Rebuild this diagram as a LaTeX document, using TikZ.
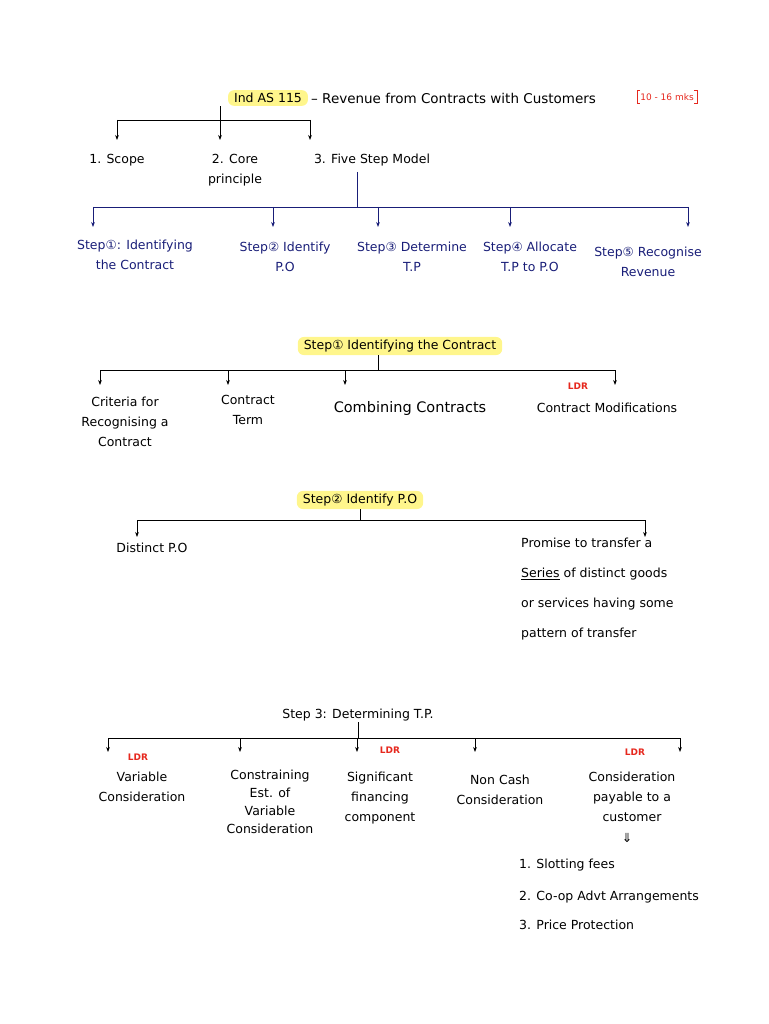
\documentclass[tikz,border=0pt]{standalone}
\usepackage{fontspec}
\setmainfont{DejaVu Sans}
\usetikzlibrary{arrows.meta}
\definecolor{navy}{RGB}{25,30,120}
\definecolor{hl}{RGB}{255,246,140}
\definecolor{ldr}{RGB}{230,40,30}
\begin{document}
\begin{tikzpicture}[x=1pt,y=-1pt,
  txt/.style={font=\fontsize{12.5}{20}\selectfont,align=center,inner sep=1pt},
  stepnode/.style={txt,text=navy},
  hlbox/.style={fill=hl,rounded corners=6pt,inner xsep=6pt,inner ysep=3pt,font=\fontsize{12.5}{15}\selectfont},
  ln/.style={line width=0.8pt},
  arr/.style={ln,-{Stealth[length=5pt]}},
  bl/.style={ln,navy},
  barr/.style={arr,navy},
  ldrtag/.style={font=\fontsize{9}{9}\selectfont\bfseries,text=ldr,inner sep=0pt}]
\useasboundingbox (0,0) rectangle (768,1024);
% title
\node[hlbox] (t1) at (268,98) {Ind AS 115};
\node[txt,anchor=west,font=\fontsize{13.5}{16}\selectfont] (t2) at (310,98) {– Revenue from Contracts with Customers};
\node[font=\fontsize{9}{10}\selectfont,text=ldr,inner sep=3pt] (t3) at (667,97) {10 - 16 mks};
\draw[ldr,line width=0.7pt] ([xshift=3pt]t3.north west) -| (t3.south west) -- ++(3pt,0);
\draw[ldr,line width=0.7pt] ([xshift=-3pt]t3.north east) -| (t3.south east) -- ++(-3pt,0);
\coordinate (c0) at (220,120);
\draw[ln] (t1.south -| c0) -- (c0);
\draw[ln] (117,120) -- (310,120);
\node[txt] (a1) at (117,160) {1. Scope};
\node[txt] (a2) at (235,170) {2. Core\\principle};
\node[txt] (a3) at (372,160) {3. Five Step Model};
\foreach \x in {117,220,310}{\draw[arr] (\x,120) -- (\x,140);}
% five steps
\draw[bl] (357,172) -- (357,207);
\draw[bl] (93,207) -- (688,207);
\foreach \x in {93,273,378,510,688}{\draw[barr] (\x,207) -- (\x,227);}
\node[stepnode] (s1) at (135,255) {Step①: Identifying\\the Contract};
\node[stepnode] (s2) at (285,257) {Step② Identify\\P.O};
\node[stepnode] (s3) at (412,257) {Step③ Determine\\T.P};
\node[stepnode] (s4) at (530,257) {Step④ Allocate\\T.P to P.O};
\node[stepnode] (s5) at (648,262) {Step⑤ Recognise\\Revenue};
% section step 1
\node[hlbox] (h1) at (400,346) {Step① Identifying the Contract};
\draw[ln] (h1.south -| 378,0) -- (378,370);
\draw[ln] (100,370) -- (615,370);
\foreach \x in {100,228,345,615}{\draw[arr] (\x,370) -- (\x,385);}
\node[txt] (b1) at (125,422) {Criteria for\\Recognising a\\Contract};
\node[txt] (b2) at (248,410) {Contract\\Term};
\node[txt,font=\fontsize{14.5}{18}\selectfont] (b3) at (410,408) {Combining Contracts};
\node[txt] (b4) at (607,408) {Contract Modifications};
\node[ldrtag] at (578,386) {LDR};
% section step 2
\node[hlbox] (h2) at (360,500) {Step② Identify P.O};
\draw[ln] (h2.south) -- (360,520);
\draw[ln] (137,520) -- (645,520);
\foreach \x in {137,645}{\draw[arr] (\x,520) -- (\x,537);}
\node[txt] (c1) at (152,548) {Distinct P.O};
\node[txt,align=left,anchor=north west,font=\fontsize{12.5}{30}\selectfont] (c2) at (520,537) {Promise to transfer a\\\underline{Series} of distinct goods\\or services having some\\pattern of transfer};
% section step 3
\node[txt] (h3) at (358,715) {Step 3: Determining T.P.};
\draw[ln] (h3.south) -- (358,738);
\draw[ln] (108,738) -- (680,738);
\foreach \x in {108,240,357,475,680}{\draw[arr] (\x,738) -- (\x,752);}
\node[txt] (d1) at (142,787) {Variable\\Consideration};
\node[ldrtag] at (138,757) {LDR};
\node[txt,font=\fontsize{12.5}{18}\selectfont] (d2) at (270,802) {Constraining\\Est. of\\Variable\\Consideration};
\node[txt] (d3) at (380,798) {Significant\\financing\\component};
\node[ldrtag] at (390,750) {LDR};
\node[txt] (d4) at (500,790) {Non Cash\\Consideration};
\node[txt] (d5) at (632,797) {Consideration\\payable to a\\customer};
\node[ldrtag] at (635,752) {LDR};
\node[txt] (dd) at (627,838) {⇓};
\node[txt,anchor=west] (e1) at (518,865) {1. Slotting fees};
\node[txt,anchor=west] (e2) at (518,897) {2. Co-op Advt Arrangements};
\node[txt,anchor=west] (e3) at (518,925) {3. Price Protection};
\end{tikzpicture}
\end{document}
